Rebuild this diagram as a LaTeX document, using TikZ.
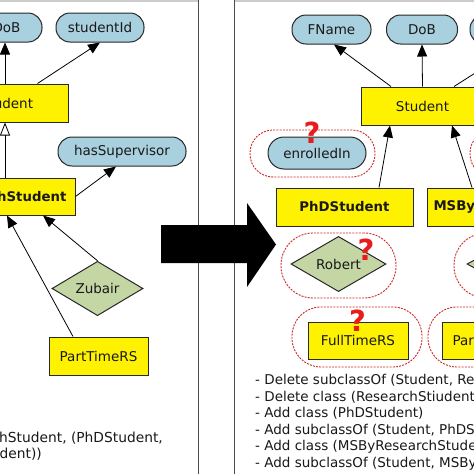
\documentclass[tikz,border=0pt]{standalone}
\usepackage{fontspec}
\setmainfont{DejaVu Sans}
\usetikzlibrary{arrows.meta,shapes.geometric,calc}
\definecolor{propblue}{RGB}{168,208,222}
\definecolor{indgreen}{RGB}{196,214,164}
\definecolor{dashred}{RGB}{205,38,38}
\definecolor{qred}{RGB}{232,28,28}
\definecolor{edgec}{RGB}{40,40,40}
\begin{document}
\begin{tikzpicture}[x=1pt,y=-1pt,
  every node/.style={text=black!90, font=\fontsize{13.5}{16}\selectfont},
  prop/.style={rectangle, rounded corners=14pt, draw=edgec, fill=propblue, line width=1pt, minimum height=29pt, inner sep=0pt},
  cls/.style={rectangle, draw=edgec, fill=yellow, line width=1pt, minimum height=38pt, inner sep=0pt},
  boldtxt/.style={font=\bfseries\fontsize{13.3}{16}\selectfont},
  ind/.style={diamond, draw=edgec, fill=indgreen, line width=1pt, inner sep=0pt},
  outl/.style={rectangle, draw=dashred, dash pattern=on 2pt off 1.2pt, line width=0.9pt, rounded corners=#1},
  qmark/.style={text=qred, font=\bfseries\fontsize{29}{29}\selectfont, inner sep=0pt},
  arr/.style={-{Triangle[length=12pt,width=10pt]}, line width=0.8pt, draw=black},
  gen/.style={-{Triangle[open,length=13pt,width=10pt]}, line width=0.8pt, draw=black},
  listtxt/.style={font=\fontsize{13.5}{16.8}\selectfont, inner sep=0pt, anchor=base west},
  lefttxt/.style={font=\fontsize{13.8}{16}\selectfont, inner sep=0pt, anchor=base east}
]
\useasboundingbox (0,0) rectangle (474,474);
\clip (0,0) rectangle (474,474);
\fill[white] (0,0) rectangle (474,474);

% panel borders
\draw[gray!40, line width=1.6pt] (0,0.8) -- (198,0.8);
\draw[gray!40, line width=1.6pt] (234.5,0.8) -- (474,0.8);
\draw[black!70, line width=0.9pt] (198,0) -- (198,474);
\draw[black!70, line width=0.9pt] (234.5,0) -- (234.5,474);

% ---- left panel ----
\node[prop, minimum width=71pt] (dob) at (6.5,27.5) {DoB};
\node[prop, minimum width=88pt] (sid) at (100,27.5) {studentId};
\node[cls, minimum width=123pt] (stu) at (6.5,103) {Student};
\node[cls, boldtxt, minimum width=146pt, minimum height=37pt] (rs) at (2,196.5) {ResearchStudent};
\node[prop, minimum width=128pt] (hs) at (122,151.5) {hasSupervisor};
\node[ind, minimum width=91pt, minimum height=45pt] (zu) at (97.5,288.5) {Zubair};
\node[cls, minimum width=99pt] (pt) at (98.5,356) {PartTimeRS};

\draw[arr] ([xshift=-1.5pt]stu.north) -- ([xshift=-1.5pt]dob.south);
\draw[arr] ([xshift=31pt]stu.north) -- (sid.south);
\draw[gen] ([xshift=3pt]rs.north) -- ([xshift=-1.5pt]stu.south);
\draw[arr] (rs.east) -- ([xshift=-6pt]hs.south);
\draw[arr] (zu.north) -- ([xshift=41pt]rs.south);
\draw[arr] ([xshift=-25.5pt]pt.north) -- ([xshift=5pt]rs.south);

\node[lefttxt] (l1) at (163,442) {ResearchStudent, (PhDStudent,};
\node[lefttxt] (l2) at (42,458) {MSByResearchStudent))};

% ---- right panel ----
\node[prop, minimum width=79pt] (fn) at (331.5,29.5) {FName};
\node[prop, minimum width=71pt] (dob2) at (422,29.5) {DoB};
\node[prop, minimum width=100pt] (p3) at (520,29.5) {};
\node[cls, minimum width=123pt] (stu2) at (422.5,106) {Student};
\node[prop, minimum width=98pt, minimum height=32pt, rounded corners=16pt] (enr) at (317,153) {enrolledIn};
\node[cls, boldtxt, minimum width=137pt] (phd) at (344.5,207) {PhDStudent};
\node[cls, boldtxt, anchor=west, inner xsep=6pt] (msr) at (427,207) {MSByResearchStudent};
\node[ind, minimum width=95pt, minimum height=52pt] (rob) at (338.5,264) {Robert};
\node[ind, minimum width=95pt, minimum height=52pt] (ind2) at (514.5,264) {};
\node[cls, minimum width=100pt, minimum height=37pt] (ft) at (358,340.5) {FullTimeRS};
\node[cls, anchor=west, inner xsep=10pt, minimum height=37pt] (pt2) at (442,340.5) {PartTimeRS};

\draw[arr] ([xshift=-31.5pt]stu2.north) -- ([xshift=2.5pt]fn.south);
\draw[arr] (stu2.north) -- (dob2.south);
\draw[arr] ([xshift=31.5pt]stu2.north) -- (p3.south);
\draw[arr] ([xshift=34.5pt]phd.north) -- ([xshift=-32.5pt]stu2.south);
\draw[arr] ([xshift=45pt]msr.north west) -- ([xshift=29.5pt]stu2.south);

% dashed outlines
\node[outl=23pt, minimum width=125pt, minimum height=47pt] (o1) at (312.5,153.5) {};
\node[outl=23pt, minimum width=125pt, minimum height=47pt] (o1b) at (532.5,153.5) {};
\node[outl=32pt, minimum width=115pt, minimum height=65pt] (o2) at (338.5,265.5) {};
\node[outl=32pt, minimum width=115pt, minimum height=65pt] (o2b) at (511.5,265.5) {};
\node[outl=29pt, minimum width=130pt, minimum height=60pt] (o3) at (357,337) {};
\node[outl=29pt, minimum width=130pt, minimum height=60pt] (o3b) at (493,337) {};

\node[qmark] (q1) at (312,133) {?};
\node[qmark] (q2) at (366,250) {?};
\node[qmark] (q3) at (357.5,321) {?};

% change list
\node[listtxt] (c1) at (255,384) {- Delete subclassOf (Student, ResearchStudent)};
\node[listtxt] (c2) at (255,401) {- Delete class (ResearchStiudent)};
\node[listtxt] (c3) at (255,417) {- Add class (PhDStudent)};
\node[listtxt] (c4) at (255,434) {- Add subclassOf (Student, PhDStudent)};
\node[listtxt] (c5) at (255,450) {- Add class (MSByResearchStudent)};
\node[listtxt] (c6) at (255,467) {- Add subclassOf (Student, MSByResearchStudent)};

% big transition arrow
\fill[black] (161,225) -- (247,225) -- (247,203) -- (276,244.5) -- (247,287) -- (247,263) -- (161,263) -- cycle;
\end{tikzpicture}
\end{document}
